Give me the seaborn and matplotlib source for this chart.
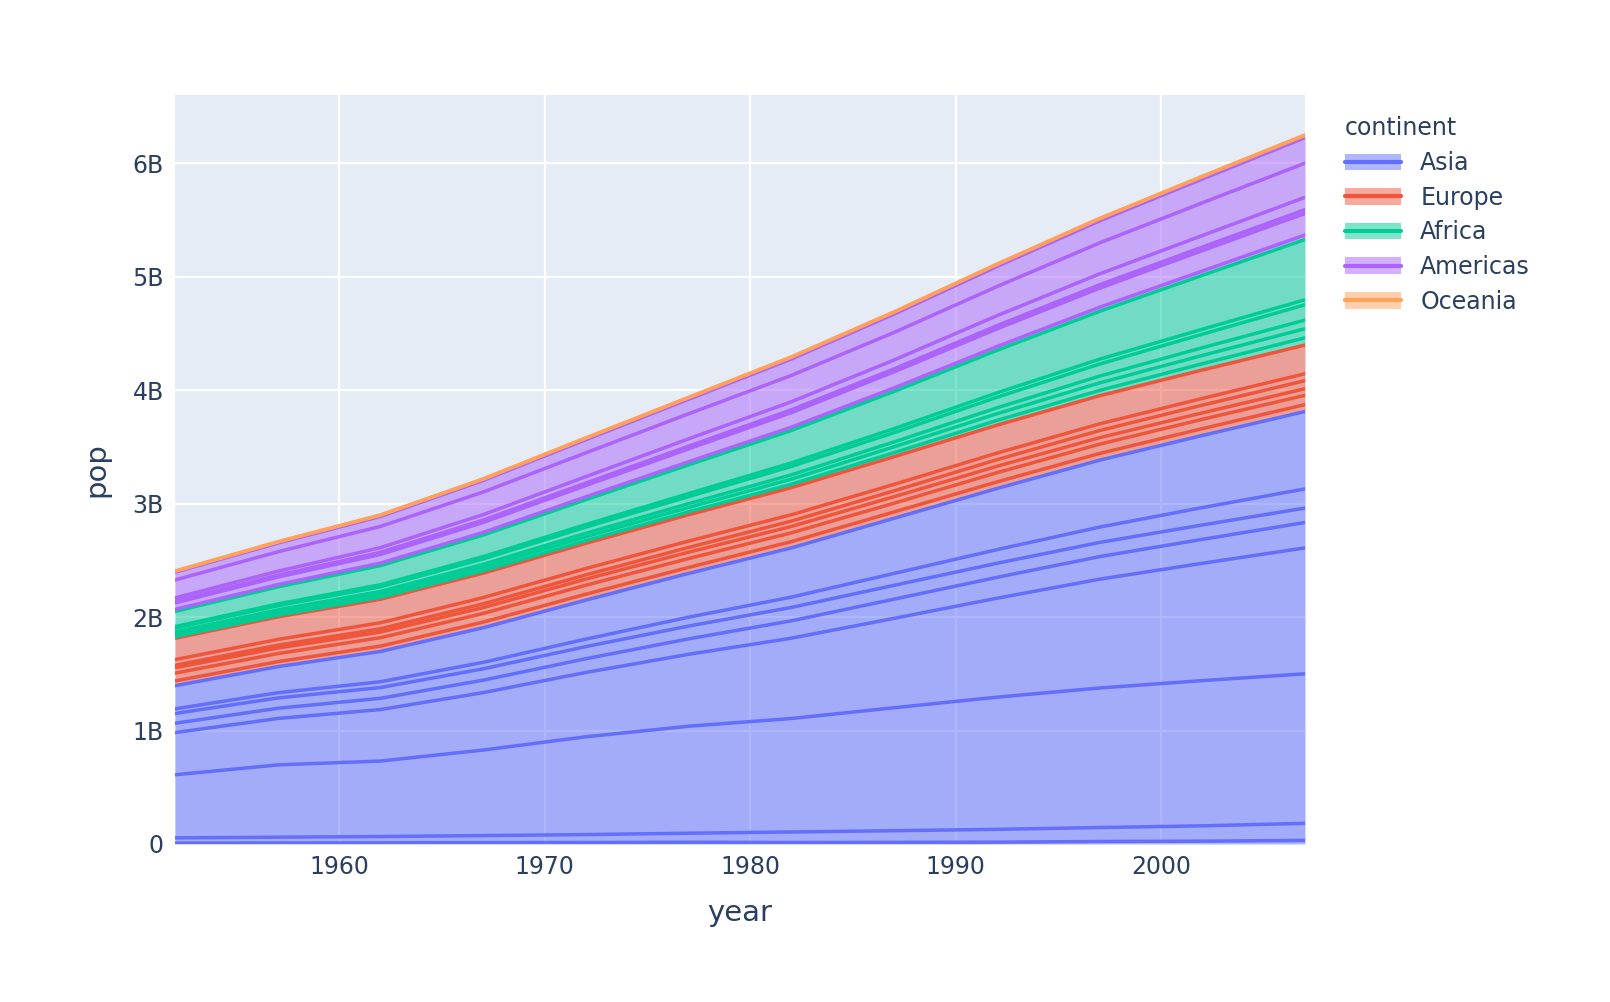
import numpy as np
import pandas as pd
import matplotlib
matplotlib.use("Agg")
import matplotlib.pyplot as plt
import seaborn as sns
from matplotlib.lines import Line2D
from matplotlib.patches import Patch
from matplotlib.legend_handler import HandlerTuple

years = [1952, 1957, 1962, 1967, 1972, 1977, 1982, 1987, 1992, 1997, 2002, 2007]

# populations in millions, continent totals and main countries
asia_total = [1395, 1563, 1697, 1906, 2150, 2385, 2610, 2871, 3133, 3383, 3601, 3812]
europe_total = [418, 438, 460, 481, 500, 517, 531, 543, 558, 568, 577, 586]
africa_total = [237, 265, 297, 336, 385, 440, 504, 575, 660, 744, 834, 930]
americas_total = [345, 386, 433, 481, 529, 578, 630, 682, 739, 797, 850, 898]
oceania_total = [10.7, 11.9, 13.0, 14.4, 16.1, 17.2, 18.4, 19.6, 21.0, 22.5, 23.5, 24.5]

asia = {
    "Afghanistan": [8, 9, 10, 12, 13, 15, 13, 14, 16, 22, 25, 32],
    "Bangladesh": [46, 51, 56, 62, 70, 80, 93, 103, 113, 123, 135, 150],
    "China": [556, 637, 665, 754, 862, 943, 1000, 1084, 1165, 1230, 1280, 1318],
    "India": [372, 409, 454, 506, 567, 634, 708, 788, 872, 959, 1034, 1110],
    "Indonesia": [82, 90, 99, 110, 121, 136, 153, 169, 184, 199, 211, 224],
    "Japan": [86, 91, 95, 100, 107, 113, 118, 122, 124, 125, 127, 127],
    "Pakistan": [41, 46, 51, 57, 66, 78, 91, 105, 120, 135, 153, 169],
}
europe = {
    "France": [42, 44, 47, 50, 52, 53, 55, 56, 58, 59, 60, 61],
    "Germany": [69, 71, 74, 76, 79, 78, 78, 77, 81, 82, 82, 82],
    "Italy": [47, 49, 50, 52, 54, 56, 56, 57, 57, 57, 57, 58],
    "Turkey": [22, 25, 29, 33, 37, 42, 47, 52, 58, 63, 68, 71],
    "United Kingdom": [50, 51, 53, 55, 56, 56, 56, 57, 58, 59, 59, 61],
}
africa = {
    "Congo, Dem. Rep.": [14, 15, 17, 20, 23, 26, 30, 35, 42, 47, 55, 64],
    "Egypt": [22, 25, 28, 31, 35, 38, 45, 52, 59, 66, 73, 80],
    "Ethiopia": [20, 22, 24, 27, 31, 34, 38, 43, 52, 60, 68, 76],
    "Nigeria": [33, 37, 41, 48, 54, 62, 74, 82, 93, 106, 119, 135],
    "South Africa": [14, 16, 18, 20, 23, 27, 31, 35, 39, 43, 44, 44],
}
americas = {
    "Argentina": [18, 20, 22, 23, 25, 27, 29, 31, 33, 36, 38, 40],
    "Brazil": [57, 66, 76, 88, 100, 114, 128, 142, 156, 168, 180, 190],
    "Canada": [14, 17, 19, 21, 22, 24, 25, 26, 28, 30, 31, 33],
    "Mexico": [30, 35, 41, 48, 56, 64, 71, 78, 88, 96, 102, 109],
    "United States": [158, 171, 187, 199, 210, 221, 232, 243, 257, 273, 288, 301],
}
oceania = {
    "Australia": [8.7, 9.7, 10.8, 11.9, 13.2, 14.1, 15.2, 16.3, 17.5, 18.6, 19.5, 20.4],
}

continents = ["Asia", "Europe", "Africa", "Americas", "Oceania"]
colors = {"Asia": "#636efa", "Europe": "#EF553B", "Africa": "#00cc96",
          "Americas": "#ab63fa", "Oceania": "#FFA15A"}
groups = [("Asia", asia, asia_total), ("Europe", europe, europe_total),
          ("Africa", africa, africa_total), ("Americas", americas, americas_total),
          ("Oceania", oceania, oceania_total)]

rows = []
for cont, d, tot in groups:
    items = list(d.items())
    other = [t - sum(v[i] for _, v in items) for i, t in enumerate(tot)]
    items.append(("Other " + cont, other))
    for name, vals in items:
        for y, v in zip(years, vals):
            rows.append(dict(continent=cont, country=name, year=y, pop=v * 1e6))
df = pd.DataFrame(rows)

sns.set_theme(style="darkgrid", rc={"axes.facecolor": "#E5ECF6", "grid.color": "white",
                                   "grid.linewidth": 1.6, "axes.edgecolor": "none"})
fig = plt.figure(figsize=(16.1, 10.02), dpi=100)
ax = fig.add_axes([0.1087, 0.1577, 0.7019, 0.7473])

base = np.zeros(len(years))
order = list(dict.fromkeys(zip(df.continent, df.country)))
for cont, country in order:
    sub = df[(df.continent == cont) & (df.country == country)].sort_values("year")
    top = base + sub["pop"].to_numpy()
    ax.fill_between(years, base, top, color=colors[cont], alpha=0.5, linewidth=0)
    line_df = pd.DataFrame({"year": years, "cum": top})
    sns.lineplot(data=line_df, x="year", y="cum", ax=ax, color=colors[cont], linewidth=2.5)
    base = top

ax.set_xlim(1952, 2007)
ax.set_ylim(0, 6.6e9)
ax.set_yticks([0, 1e9, 2e9, 3e9, 4e9, 5e9, 6e9])
ax.set_yticklabels(["0", "1B", "2B", "3B", "4B", "5B", "6B"])
ax.set_xticks([1960, 1970, 1980, 1990, 2000])
tc = "#2a3f5f"
ax.tick_params(colors=tc, labelsize=17, length=0, pad=8)
ax.set_xlabel("year", fontsize=21, color=tc, labelpad=14)
ax.set_ylabel("pop", fontsize=21, color=tc, labelpad=16)

handles = []
for c in continents:
    handles.append((Patch(facecolor=colors[c], alpha=0.5, edgecolor="none"),
                    Line2D([], [], color=colors[c], linewidth=3)))
leg = fig.legend(handles, continents, loc="upper left", bbox_to_anchor=(0.822, 0.905),
                 frameon=False, fontsize=17, title="continent", title_fontsize=17,
                 handler_map={tuple: HandlerTuple(ndivide=1)}, labelspacing=0.45,
                 handlelength=2.4, alignment="left")
for t in leg.get_texts():
    t.set_color(tc)
leg.get_title().set_color(tc)

fig.savefig("out.png", dpi=100, facecolor="white")
